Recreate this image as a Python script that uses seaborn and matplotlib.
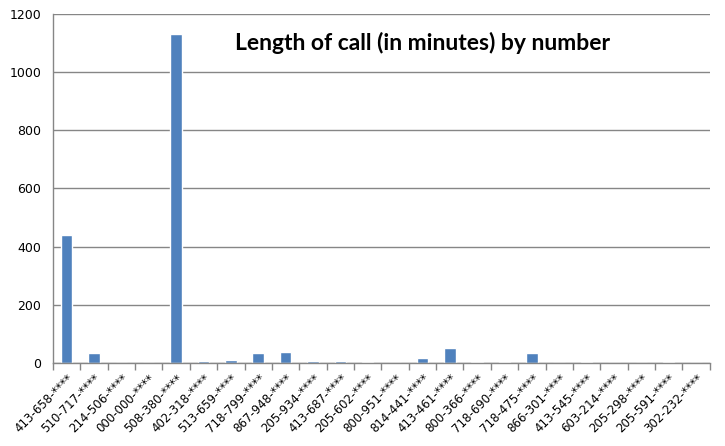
"""Bar chart of call length by number."""

import matplotlib.pyplot as plt
import numpy as np
import pandas as pd
import seaborn as sns

numbers = [
    "413-658-****", "510-717-****", "214-506-****", "000-000-****",
    "508-380-****", "402-318-****", "513-659-****", "718-799-****",
    "867-948-****", "205-934-****", "413-687-****", "205-602-****",
    "800-951-****", "814-441-****", "413-461-****", "800-366-****",
    "718-690-****", "718-475-****", "866-301-****", "413-545-****",
    "603-214-****", "205-298-****", "205-591-****", "302-232-****",
]
minutes = [440, 35, 0, 0, 1130, 7, 11, 35, 39, 7, 7, 4, 0, 17, 52, 3, 3, 35,
           0, 3, 0, 0, 3, 0]

df = pd.DataFrame({"number": numbers, "minutes": minutes})

sns.set_style("white")
plt.rcParams["font.family"] = ["DejaVu Sans"]
plt.rcParams["text.color"] = "black"
plt.rcParams["xtick.labelcolor"] = "black"
plt.rcParams["ytick.labelcolor"] = "black"

fig = plt.figure(figsize=(7.25, 4.46), dpi=100)
ax = fig.add_axes([0.073, 0.186, 0.906, 0.783])

sns.barplot(data=df, x="number", y="minutes", color="#4F81BD", width=0.42,
            saturation=1, ax=ax)

ax.set_ylim(0, 1200)
ax.set_xlim(-0.5, len(numbers) - 0.5)
ax.set_yticks(range(0, 1201, 200))
ax.yaxis.grid(True, color="#868686", linewidth=1)
ax.set_axisbelow(True)
ax.set_xlabel("")
ax.set_ylabel("")

for side in ["top", "right"]:
    ax.spines[side].set_visible(False)
for side in ["left", "bottom"]:
    ax.spines[side].set_color("#868686")
    ax.spines[side].set_linewidth(1)

# category boundary ticks, Excel style
ax.set_xticks(range(len(numbers)))
ax.set_xticks(np.arange(-0.5, len(numbers)), minor=True)
ax.tick_params(axis="x", which="major", length=0, pad=6)
ax.tick_params(axis="x", which="minor", length=5, width=1, color="#868686",
               direction="out", bottom=True)
ax.tick_params(axis="y", length=5, color="#868686", direction="out", labelsize=9)
ax.set_xticklabels(numbers, rotation=45, ha="right", rotation_mode="anchor",
                   fontsize=8.5)

ax.text(0.562, 0.917, "Length of call (in minutes) by number",
        transform=ax.transAxes, ha="center", va="center", fontsize=16.5,
        fontweight="bold", color="black", family=["Lato", "DejaVu Sans"])

plt.savefig("out.png", dpi=100)
